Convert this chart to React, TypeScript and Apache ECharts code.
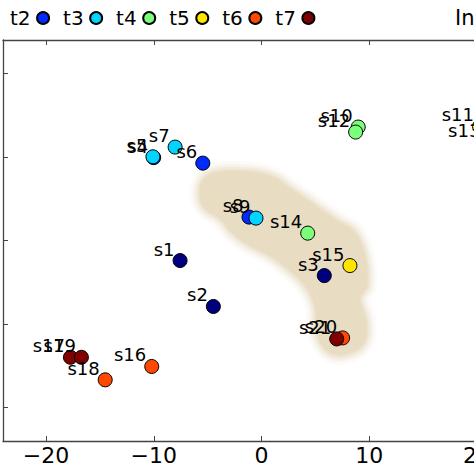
import React, { useEffect, useRef } from "react";
import * as echarts from "echarts";

// ---- data ----
const groupNames = ["t1", "t2", "t3", "t4", "t5", "t6", "t7"];
const groupColors = ["#00007f", "#002aff", "#00d4ff", "#7bff7b", "#ffe500", "#ff4800", "#7f0000"];
const legendNames = ["t2", "t3", "t4", "t5", "t6", "t7"];

const t1Names = ["s1", "s2", "s3"];
const t1Pts = [[-7.56, -1.2], [-4.47, -3.95], [5.83, -2.1]];
const t2Names = ["s4", "s6", "s8"];
const t2Pts = [[-10.01, 4.96], [-5.45, 4.63], [-1.16, 1.4]];
const t3Names = ["s5", "s7", "s9"];
const t3Pts = [[-10.08, 5.01], [-8.02, 5.59], [-0.51, 1.34]];
const t4Names = ["s10", "s12", "s14"];
const t4Pts = [[8.98, 6.79], [8.74, 6.49], [4.29, 0.44]];
const t5Names = ["s11", "s13", "s15"];
const t5Pts = [[20.24, 6.83], [20.83, 5.87], [8.21, -1.5]];
const t6Names = ["s16", "s18", "s20"];
const t6Pts = [[-10.19, -7.54], [-14.51, -8.34], [7.53, -5.83]];
const t7Names = ["s17", "s19", "s21"];
const t7Pts = [[-17.74, -6.99], [-16.72, -6.99], [6.98, -5.89]];

const xTicks = [-20, -10, 0, 10, 20];
const yTicks = [-10, -5, 0, 5, 10];

// highlighted region outline (data coords)
const blobX = [-5.43, -4.31, -1.53, 0.97, 2.64, 4.31, 5.61, 7.28, 8.67, 9.59, 9.79, 9.14, 9.69, 9.51, 8.02, 6.35, 5.24, 4.96, 4.04, 2.64, 0.79, -1.07, -2.74, -3.85, -5.24, -5.71];
const blobY = [3.59, 4.07, 4.13, 3.83, 3.11, 2.4, 1.8, 1.08, 0.48, -0.9, -2.69, -3.47, -4.79, -6.11, -6.77, -6.71, -5.69, -3.89, -2.69, -1.8, -0.9, -0.3, 0.48, 1.32, 1.92, 2.69];

const titleText = "In";

export default function App() {
  const ref = useRef<HTMLDivElement>(null);
  useEffect(() => {
    if (!ref.current) return;
    const chart = echarts.init(ref.current, null, { renderer: "svg" });
    const groups = [
      [t1Names, t1Pts], [t2Names, t2Pts], [t3Names, t3Pts], [t4Names, t4Pts],
      [t5Names, t5Pts], [t6Names, t6Pts], [t7Names, t7Pts],
    ] as [string[], number[][]][];
    const font = "DejaVu Sans";
    const axisColor = "#444";
    const blobColor = "#e8dcc2";
    const fmt = (v: number) => (v < 0 ? "\u2212" + Math.abs(v) : String(v));
    const scatterSeries = groups.map(([names, pts], i) => ({
      type: "scatter",
      name: groupNames[i],
      z: 3,
      symbol: "circle",
      symbolSize: 14,
      itemStyle: { color: groupColors[i], borderColor: "#000", borderWidth: 1, opacity: 1 },
      label: {
        show: true,
        formatter: "{b}",
        position: [2, 5],
        align: "right",
        verticalAlign: "bottom",
        fontSize: 18,
        color: "#000",
        fontFamily: font,
      },
      data: pts.map((p, j) => ({ name: names[j], value: p })),
    }));
    const blobSeries = {
      type: "custom",
      name: "region",
      z: 1,
      silent: true,
      data: [0],
      renderItem: (params: any, api: any) => {
        const points = blobX.map((x, k) => api.coord([x, blobY[k]]));
        const layers = [
          { w: 20, o: 0.12 },
          { w: 14, o: 0.2 },
          { w: 9, o: 0.35 },
          { w: 4, o: 0.6 },
        ];
        const children: any[] = layers.map((l) => ({
          type: "polygon",
          shape: { points, smooth: 0.4 },
          style: { fill: "none", stroke: blobColor, lineWidth: l.w, opacity: l.o, lineJoin: "round" },
        }));
        children.push({
          type: "polygon",
          shape: { points, smooth: 0.4 },
          style: { fill: blobColor },
        });
        return { type: "group", children };
      },
    };
    const xBase = {
      type: "value",
      min: -24,
      max: 24,
      axisLine: { show: true, onZero: false, lineStyle: { color: axisColor, width: 1.3 } },
      axisTick: { show: true, inside: true, length: 5, customValues: xTicks, lineStyle: { color: axisColor } },
      splitLine: { show: false },
    };
    const yBase = {
      type: "value",
      min: -12,
      max: 12,
      axisLine: { show: true, onZero: false, lineStyle: { color: axisColor, width: 1.3 } },
      axisTick: { show: true, inside: true, length: 5, customValues: yTicks, lineStyle: { color: axisColor } },
      axisLabel: { show: false },
      splitLine: { show: false },
    };
    chart.setOption({
      animation: false,
      backgroundColor: "#fff",
      grid: { left: 3, right: 40, top: 40, bottom: 33 },
      legend: {
        data: legendNames,
        left: 5,
        top: 3,
        align: "right",
        itemWidth: 15,
        itemHeight: 12,
        itemGap: 13,
        icon: "circle",
        textStyle: { fontSize: 20, color: "#000", fontFamily: font },
      },
      graphic: [
        {
          type: "text",
          left: 455,
          top: 7,
          style: { text: titleText, fontSize: 21, fill: "#000", fontFamily: font },
        },
      ],
      xAxis: [
        {
          ...xBase,
          position: "bottom",
          axisLabel: { customValues: xTicks, formatter: fmt, fontSize: 22, color: "#000", margin: 3, fontFamily: font },
        },
        { ...xBase, position: "top", axisLabel: { show: false } },
      ],
      yAxis: [
        { ...yBase, position: "left" },
        { ...yBase, position: "right" },
      ],
      series: [blobSeries, ...scatterSeries],
    });
    return () => chart.dispose();
  }, []);
  return (
    <div style={{ position: "fixed", left: 0, top: 0, width: 474, height: 474, overflow: "hidden", background: "#fff" }}>
      <div ref={ref} style={{ width: 560, height: 474 }} />
    </div>
  );
}
